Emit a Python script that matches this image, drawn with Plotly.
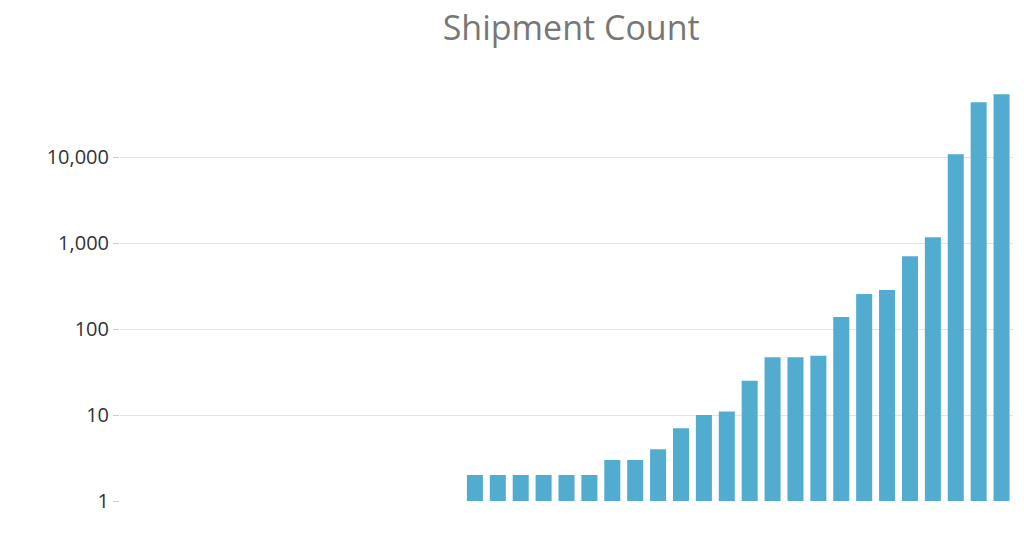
import plotly.graph_objects as go

# 39 categories, the first 15 have no shipments
categorias = [str(i) for i in range(39)]
valores = [None] * 15 + [2, 2, 2, 2, 2, 2, 3, 3, 4, 7, 10, 11, 25, 47, 47, 49,
                         138, 256, 285, 705, 1170, 10800, 43600, 54000]
tick_vals = [1, 10, 100, 1000, 10000]
tick_text = ["1", "10", "100", "1,000", "10,000"]

fig = go.Figure()
fig.add_trace(go.Bar(x=categorias, y=valores, marker_color="#52acd0",
                     marker_line_width=0, width=0.7))

fig.update_layout(
    title=dict(text="Shipment Count", x=0.55, xanchor="center", y=0.985, yanchor="top",
               font=dict(family="Open Sans", size=34, color="#777777")),
    width=1024, height=558,
    margin=dict(l=112, r=19, t=52, b=65),
    plot_bgcolor="white", paper_bgcolor="white",
    showlegend=False,
    font=dict(family="Open Sans", size=20, color="#333333"),
)
fig.update_xaxes(showticklabels=False, showgrid=False, zeroline=False)
fig.update_yaxes(type="log", range=[0, 5.13], tickvals=tick_vals, ticktext=tick_text,
                 showgrid=True, gridcolor="#e3e3e3", zeroline=False,
                 ticks="outside", ticklen=6, tickcolor="#cccccc")

fig.write_html("out.html")
